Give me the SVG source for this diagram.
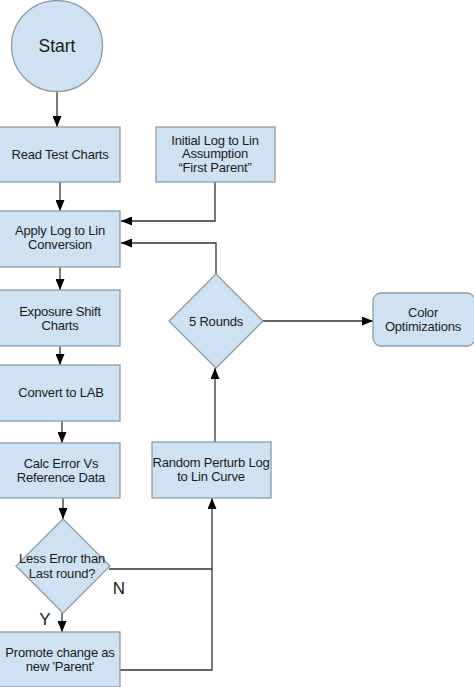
<svg xmlns="http://www.w3.org/2000/svg" width="474" height="687" viewBox="0 0 474 687">
<defs>
<style>
.n{fill:#cfe2f3;stroke:#8d9ba6;stroke-width:1.3}
.t{font-family:"Liberation Sans",Arial,sans-serif;font-size:13px;letter-spacing:-0.2px;fill:#1a1a1a;text-anchor:middle}
.c{fill:none;stroke:#333;stroke-width:1.3}
.l{font-family:"Liberation Sans",Arial,sans-serif;font-size:17px;fill:#1a1a1a;text-anchor:middle}
</style>
<marker id="a" markerWidth="11" markerHeight="9" refX="11" refY="4.5" orient="auto" markerUnits="userSpaceOnUse">
<path d="M0,0 L11,4.5 L0,9 Z" fill="#000"/>
</marker>
</defs>
<rect width="474" height="687" fill="#fff"/>
<g id="connectors">
<path class="c" d="M57,92 V127" marker-end="url(#a)"/>
<path class="c" d="M60,182 V211" marker-end="url(#a)"/>
<path class="c" d="M215,182 V221 H121" marker-end="url(#a)"/>
<path class="c" d="M216,274 V243 H121" marker-end="url(#a)"/>
<path class="c" d="M60,267 V290" marker-end="url(#a)"/>
<path class="c" d="M60,346 V365" marker-end="url(#a)"/>
<path class="c" d="M62,421 V443" marker-end="url(#a)"/>
<path class="c" d="M63,498 V519" marker-end="url(#a)"/>
<path class="c" d="M62,613 V632" marker-end="url(#a)"/>
<path class="c" d="M263,321 H373" marker-end="url(#a)"/>
<path class="c" d="M215,442 V368" marker-end="url(#a)"/>
<path class="c" d="M109,569 H212"/>
<path class="c" d="M120,670 H212 V498" marker-end="url(#a)"/>
<text class="l" x="119" y="594">N</text>
<text class="l" x="45" y="625">Y</text>
</g>
<g id="start"><circle class="n" cx="57" cy="46" r="45.5"/><text class="t" style="font-size:17.5px;letter-spacing:0" x="57" y="52">Start</text></g>
<g id="read"><rect class="n" x="-1" y="127" width="121" height="55"/><text class="t" x="60" y="159">Read Test Charts</text></g>
<g id="initial"><rect class="n" x="156" y="127" width="119" height="55"/><text class="t" x="215" y="144.5">Initial Log to Lin</text><text class="t" x="215" y="158">Assumption</text><text class="t" x="215" y="171.5">“First Parent”</text></g>
<g id="apply"><rect class="n" x="-1" y="211" width="121" height="56"/><text class="t" x="60" y="235">Apply Log to Lin</text><text class="t" x="60" y="249">Conversion</text></g>
<g id="exposure"><rect class="n" x="-1" y="290" width="121" height="56"/><text class="t" x="60" y="316">Exposure Shift</text><text class="t" x="60" y="329.5">Charts</text></g>
<g id="lab"><rect class="n" x="-1" y="365" width="121" height="56"/><text class="t" x="61" y="397">Convert to LAB</text></g>
<g id="calc"><rect class="n" x="-1" y="443" width="121" height="55"/><text class="t" x="61" y="468">Calc Error Vs</text><text class="t" x="61" y="481.5">Reference Data</text></g>
<g id="less"><path class="n" d="M63,519 L110,566 L63,613 L16,566 Z"/><text class="t" x="62" y="563">Less Error than</text><text class="t" x="62" y="578">Last round?</text></g>
<g id="promote"><rect class="n" x="-1" y="632" width="121" height="55"/><text class="t" x="60" y="657">Promote change as</text><text class="t" x="60" y="670.5">new 'Parent'</text></g>
<g id="random"><rect class="n" x="152" y="442" width="119" height="56"/><text class="t" x="211" y="467">Random Perturb Log</text><text class="t" x="211" y="481">to Lin Curve</text></g>
<g id="rounds"><path class="n" d="M216,274 L263,321 L216,368 L169,321 Z"/><text class="t" x="216" y="325.5">5 Rounds</text></g>
<g id="color"><rect class="n" x="373" y="293" width="102" height="53" rx="8"/><text class="t" x="423" y="317">Color</text><text class="t" x="423" y="330.5">Optimizations</text></g>
</svg>
